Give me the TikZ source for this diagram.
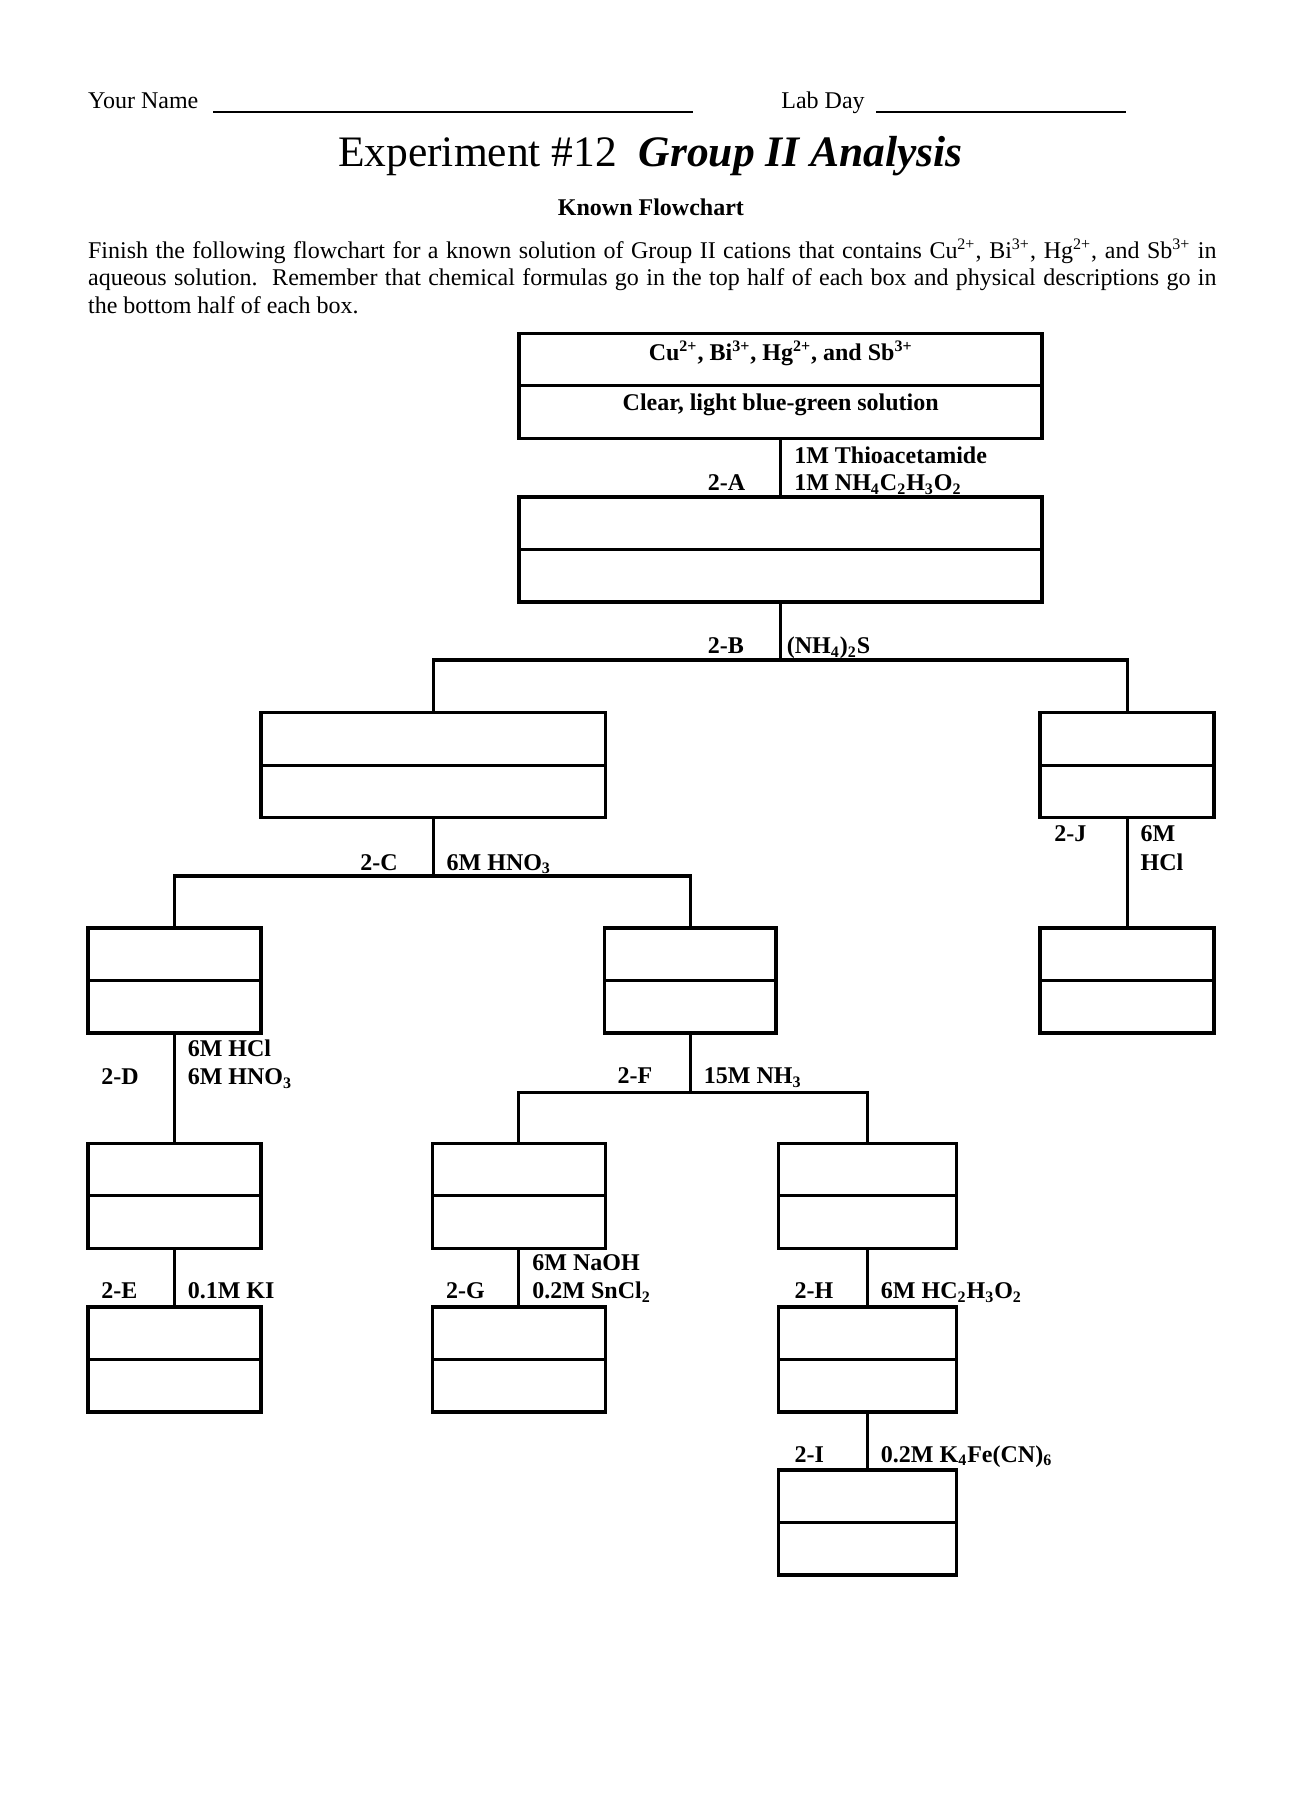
\documentclass[tikz,border=0pt]{standalone}
\usepackage{fontspec}
\setmainfont{Liberation Serif}
\usetikzlibrary{calc}
\def\px{0.572pt}
\tikzset{
  flowbox/.style = {draw, line width = 1.8pt, inner sep = 0pt,
    minimum height = 91.8*\px,
    path picture = {\draw[divider] (path picture bounding box.west)
      -- (path picture bounding box.east);}},
  divider/.style = {line width = 1.5pt},
  flowline/.style = {line width = 1.6pt},
  underline/.style = {line width = 1.2pt},
  plaintext/.style = {anchor = base west, inner sep = 0pt,
    font = \fontsize{12}{13.8}\selectfont},
  steplabel/.style = {plaintext, font = \fontsize{12}{13.8}\selectfont\bfseries},
  reagent/.style = {steplabel},
  boxtext/.style = {steplabel, anchor = base}
}
\begin{document}
\begin{tikzpicture} [x = 0.572 pt, y = -0.572 pt]
    \useasboundingbox (0, 0) rectangle (1127.6, 1571.7);

    % header
    \node[plaintext] (yourname) at (76.7, 94.7) {Your Name};
    \node[plaintext] (labday) at (682.7, 94.7) {Lab Day};
    \draw[underline] (186.5, 97.9) -- (606, 97.9);
    \draw[underline] (766, 97.9) -- (984.5, 97.9);
    \node[anchor = base, inner sep = 0pt, font = \fontsize{21.75}{25}\selectfont]
      (title) at (568.6, 145.7) {Experiment \#12\ \ \textbf{\textit{Group II Analysis}}};
    \node[boxtext] (subtitle) at (569, 188) {Known Flowchart};
    \node[plaintext, text width = 564.2pt, align = justify] (intro) at (76.7, 225.8)
      {\hyphenpenalty=10000 Finish the following flowchart for a known solution of Group II
       cations that contains Cu\textsuperscript{2+}, Bi\textsuperscript{3+},
       Hg\textsuperscript{2+}, and Sb\textsuperscript{3+} in\linebreak aqueous solution.\ \
       Remember that chemical formulas go in the top half of each box and physical
       descriptions go in\linebreak the bottom half of each box.};

    % boxes
    \node[flowbox, minimum width = 457.1*\px] (b0) at (682.45, 337.3) {};
    \node[flowbox, minimum width = 457.1*\px] (b1) at (682.45, 480.1) {};
    \node[flowbox, minimum width = 301.2*\px] (b2) at (378.6, 668.75) {};
    \node[flowbox, minimum width = 152*\px] (b3) at (985.3, 668.75) {};
    \node[flowbox, minimum width = 152*\px] (b4) at (985.3, 856.95) {};
    \node[flowbox, minimum width = 151.3*\px] (b5) at (152.35, 856.95) {};
    \node[flowbox, minimum width = 149.9*\px] (b6) at (603.45, 856.95) {};
    \node[flowbox, minimum width = 151.3*\px] (b7) at (152.35, 1045.4) {};
    \node[flowbox, minimum width = 151.3*\px] (b8) at (453.55, 1045.4) {};
    \node[flowbox, minimum width = 155.5*\px] (b9) at (758.25, 1045.4) {};
    \node[flowbox, minimum width = 151.3*\px] (b10) at (152.35, 1188.2) {};
    \node[flowbox, minimum width = 151.3*\px] (b11) at (453.55, 1188.2) {};
    \node[flowbox, minimum width = 155.5*\px] (b12) at (758.25, 1188.2) {};
    \node[flowbox, minimum width = 155.5*\px] (b13) at (758.25, 1330.65) {};

    \node[boxtext] (b0top) at ($(b0.north) + (0, 24.9)$)
      {Cu\textsuperscript{2+}, Bi\textsuperscript{3+}, Hg\textsuperscript{2+},
       and Sb\textsuperscript{3+}};
    \node[boxtext] (b0bottom) at ($(b0.center) + (0, 21.1)$)
      {Clear, light blue-green solution};

    % connectors
    \draw[flowline] (b0) -- (b1);
    \draw[flowline] (b1.south) -- ++(0, 49.4) coordinate (t1);
    \draw[flowline] (b2.north) |- (t1) -| (b3.north);
    \draw[flowline] (b2.south) -- ++(0, 49.6) coordinate (t2);
    \draw[flowline] (b5.north) |- (t2) -| (b6.north);
    \draw[flowline] (b3) -- (b4);
    \draw[flowline] (b5) -- (b7);
    \draw[flowline] (b6.south) -- ++(0, 50.3) coordinate (t3);
    \draw[flowline] (b8.north) |- (t3) -| (b9.north);
    \draw[flowline] (b7) -- (b10);
    \draw[flowline] (b8) -- (b11);
    \draw[flowline] (b9) -- (b12);
    \draw[flowline] (b12) -- (b13);

    % steps and reagents
    \node[steplabel] (s2a) at ($(b1.north) + (-64, -3.6)$) {2-A};
    \node[reagent] (r2a1) at ($(b1.north) + (11.5, -27.6)$) {1M Thioacetamide};
    \node[reagent] (r2a2) at ($(b1.north) + (11.5, -3.6)$)
      {1M NH\textsubscript{4}C\textsubscript{2}H\textsubscript{3}O\textsubscript{2}};

    \node[steplabel] (s2b) at ($(t1) + (-64, -5.3)$) {2-B};
    \node[reagent] (r2b) at ($(t1) + (5, -5.3)$) {(NH\textsubscript{4})\textsubscript{2}S};

    \node[steplabel] (s2c) at ($(t2) + (-64, -5.2)$) {2-C};
    \node[reagent] (r2c) at ($(t2) + (11.5, -5.2)$) {6M HNO\textsubscript{3}};

    \node[steplabel] (s2j) at ($(b3.south) + (-64, 19.6)$) {2-J};
    \node[reagent] (r2j1) at ($(b3.south) + (11.5, 19.6)$) {6M};
    \node[reagent] (r2j2) at ($(b3.south) + (11.5, 44.4)$) {HCl};

    \node[steplabel] (s2d) at ($(b7.north) + (-64, -49.6)$) {2-D};
    \node[reagent] (r2d1) at ($(b7.north) + (11.5, -74)$) {6M HCl};
    \node[reagent] (r2d2) at ($(b7.north) + (11.5, -49.6)$) {6M HNO\textsubscript{3}};

    \node[steplabel] (s2f) at ($(t3) + (-64, -7.3)$) {2-F};
    \node[reagent] (r2f) at ($(t3) + (11.5, -7.3)$) {15M NH\textsubscript{3}};

    \node[steplabel] (s2e) at ($(b10.north) + (-64, -5.4)$) {2-E};
    \node[reagent] (r2e) at ($(b10.north) + (11.5, -5.4)$) {0.1M KI};

    \node[steplabel] (s2g) at ($(b11.north) + (-64, -5.4)$) {2-G};
    \node[reagent] (r2g1) at ($(b11.north) + (11.5, -29.9)$) {6M NaOH};
    \node[reagent] (r2g2) at ($(b11.north) + (11.5, -5.4)$) {0.2M SnCl\textsubscript{2}};

    \node[steplabel] (s2h) at ($(b12.north) + (-64, -5.4)$) {2-H};
    \node[reagent] (r2h) at ($(b12.north) + (11.5, -5.4)$)
      {6M HC\textsubscript{2}H\textsubscript{3}O\textsubscript{2}};

    \node[steplabel] (s2i) at ($(b13.north) + (-64, -5.1)$) {2-I};
    \node[reagent] (r2i) at ($(b13.north) + (11.5, -5.1)$)
      {0.2M K\textsubscript{4}Fe(CN)\textsubscript{6}};
  \end{tikzpicture}
\end{document}
